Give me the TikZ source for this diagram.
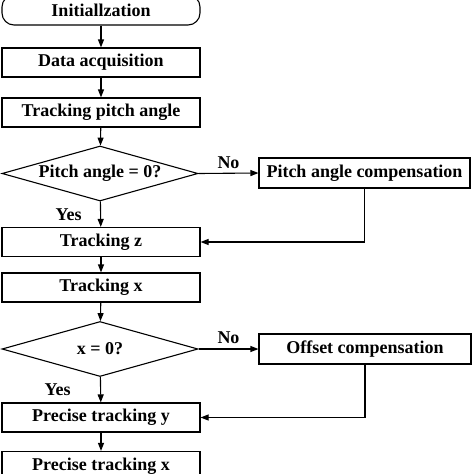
\documentclass[tikz,border=0pt]{standalone}
\usepackage{fontspec}
\setmainfont{Liberation Serif}
\usetikzlibrary{shapes.geometric,arrows.meta}
\begin{document}
\begin{tikzpicture}[x=1pt,y=-1pt,line width=1.1pt,
    box/.style={draw,rectangle,minimum width=198pt,minimum height=29pt,inner sep=0pt,font=\fontsize{18}{21}\selectfont\bfseries},
    cond/.style={draw,diamond,aspect=3.5,minimum width=196pt,minimum height=55pt,inner sep=0pt,font=\fontsize{18}{21}\selectfont\bfseries},
    lbl/.style={font=\fontsize{18}{21}\selectfont\bfseries},
    arr/.style={-{Triangle[length=8pt,width=6pt]}}]
    \useasboundingbox (0,0) rectangle (474,474);
    \clip (0,0) rectangle (474,474);
    % main column
    \node[box,rounded corners=12pt,minimum height=30pt] (init) at (101,10) {Initiallzation};
    \node[box] (data) at (101,62.5) {Data acquisition};
    \node[box] (pitch) at (101,112.5) {Tracking pitch angle};
    \node[cond] (dpitch) at (100,173.5) {Pitch angle = 0?};
    \node[box] (trz) at (101,242) {Tracking z};
    \node[box] (trx) at (101,287.5) {Tracking x};
    \node[cond] (dx) at (100,349) {x = 0?};
    \node[box] (pty) at (101,417.5) {Precise tracking y};
    \node[box] (ptx) at (101,466) {Precise tracking x};
    % compensation boxes
    \node[box,minimum width=211pt,minimum height=30pt] (pcomp) at (364.5,173) {Pitch angle compensation};
    \node[box,minimum width=212pt,minimum height=30pt] (ocomp) at (365,349) {Offset compensation};
    % arrows
    \draw[arr] (init) -- (data);
    \draw[arr] (data) -- (pitch);
    \draw[arr] (pitch) -- (dpitch);
    \draw[arr] (dpitch) -- node[lbl,anchor=east,xshift=-15pt] {Yes} (trz);
    \draw[arr] (dpitch.east) -- node[lbl,above,yshift=1pt] {No} (pcomp.west);
    \draw[arr] (pcomp.south) |- (trz.east);
    \draw[arr] (trz) -- (trx);
    \draw[arr] (trx) -- (dx);
    \draw[arr] (dx) -- node[lbl,anchor=east,xshift=-26pt] {Yes} (pty);
    \draw[arr] (dx.east) -- node[lbl,above,yshift=1pt] {No} (ocomp.west);
    \draw[arr] (ocomp.south) |- (pty.east);
    \draw[arr] (pty) -- (ptx);
\end{tikzpicture}
\end{document}
